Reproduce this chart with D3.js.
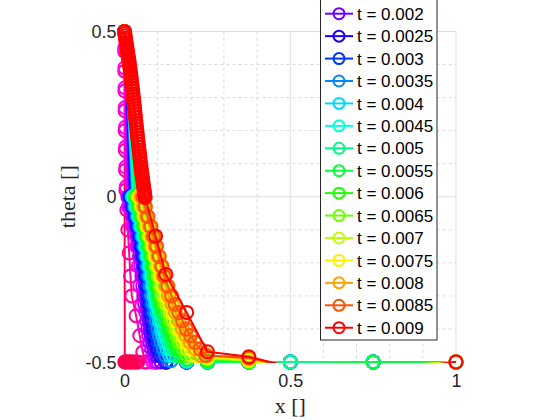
<!DOCTYPE html>
<html>
<head>
<meta charset="utf-8">
<script src="https://cdn.jsdelivr.net/npm/d3@7"></script>
<style>
  html, body { margin: 0; padding: 0; background: #fff; }
  svg { display: block; }
</style>
</head>
<body>
<svg id="chart" width="560" height="420"></svg>
<script>
// ---------------- data ----------------
const times = [0, 0.0005, 0.001, 0.0015, 0.002, 0.0025, 0.003, 0.0035, 0.004, 0.0045,
               0.005, 0.0055, 0.006, 0.0065, 0.007, 0.0075, 0.008, 0.0085, 0.009];
const xTicks = [0, 0.5, 1];
const yTicks = [-0.5, 0, 0.5];
const xTickLabels = ["0", "0.5", "1"];
const yTickLabels = ["-0.5", "0", "0.5"];
const xMinor = [0.1, 0.2, 0.3, 0.4, 0.6, 0.7, 0.8, 0.9];
const yMinor = [-0.4, -0.3, -0.2, -0.1, 0.1, 0.2, 0.3, 0.4];

// theta levels shared by the middle series (front region)
const frontLevels = [0.5, 0, -0.03, -0.06, -0.09, -0.12, -0.15, -0.18, -0.21, -0.24, -0.27, -0.3,
                     -0.325, -0.35, -0.375, -0.4, -0.42, -0.44, -0.46, -0.48];

const xSeries = [
  [0, 0.0008, 0.004, 0.008, 0.012, 0.016, 0.02, 0.025, 0.03, 0.035, 0.04, 0.0625, 0.09375, 0.125, 0.1875, 0.25, 0.375, 0.5, 0.75, 1],
  [0, 0.0004, 0.0008, 0.0012, 0.0016, 0.002, 0.0025, 0.003, 0.004, 0.007, 0.01, 0.014, 0.018, 0.022, 0.035, 0.046, 0.055, 0.065, 0.09375, 0.125, 0.1875, 0.25, 0.375, 0.5, 0.75, 1],
  [0, 0.0005, 0.001, 0.0015, 0.002, 0.0025, 0.003, 0.004, 0.005, 0.012, 0.024, 0.036, 0.042, 0.046, 0.052, 0.06, 0.07, 0.085, 0.09375, 0.125, 0.1875, 0.25, 0.375, 0.5, 0.75, 1],
  [0, 0.01, 0.017, 0.024, 0.03, 0.036, 0.041, 0.045, 0.049, 0.052, 0.055, 0.058, 0.061, 0.064, 0.067, 0.07, 0.073, 0.077, 0.082, 0.088, 0.1, 0.125, 0.1875, 0.25, 0.375, 0.5, 0.75, 1],
  [0, 0.015, 0.022, 0.029, 0.036, 0.042, 0.047, 0.052, 0.056, 0.06, 0.063, 0.066, 0.069, 0.072, 0.075, 0.078, 0.081, 0.085, 0.09, 0.097, 0.11, 0.125, 0.1875, 0.25, 0.375, 0.5, 0.75, 1],
  [0, 0.018, 0.026, 0.033, 0.04, 0.046, 0.051, 0.056, 0.06, 0.064, 0.068, 0.071, 0.075, 0.078, 0.082, 0.086, 0.089, 0.093, 0.099, 0.106, 0.125, 0.1875, 0.25, 0.375, 0.5, 0.75, 1],
  [0, 0.021, 0.029, 0.036, 0.043, 0.05, 0.056, 0.061, 0.065, 0.069, 0.073, 0.076, 0.08, 0.084, 0.088, 0.093, 0.097, 0.101, 0.108, 0.115, 0.125, 0.1875, 0.25, 0.375, 0.5, 0.75, 1],
  [0, 0.023, 0.031, 0.039, 0.046, 0.053, 0.059, 0.065, 0.07, 0.074, 0.078, 0.082, 0.086, 0.091, 0.096, 0.101, 0.105, 0.11, 0.117, 0.124, 0.14, 0.1875, 0.25, 0.375, 0.5, 0.75, 1],
  [0, 0.025, 0.034, 0.042, 0.049, 0.056, 0.062, 0.068, 0.074, 0.079, 0.084, 0.088, 0.093, 0.098, 0.104, 0.11, 0.115, 0.121, 0.128, 0.136, 0.1875, 0.25, 0.375, 0.5, 0.75, 1],
  [0, 0.028, 0.037, 0.045, 0.053, 0.06, 0.066, 0.072, 0.078, 0.083, 0.088, 0.093, 0.099, 0.105, 0.111, 0.118, 0.124, 0.13, 0.138, 0.146, 0.1875, 0.25, 0.375, 0.5, 0.75, 1],
  [0, 0.031, 0.04, 0.048, 0.056, 0.063, 0.07, 0.076, 0.082, 0.087, 0.092, 0.097, 0.104, 0.111, 0.118, 0.126, 0.133, 0.139, 0.147, 0.156, 0.1875, 0.25, 0.375, 0.5, 0.75, 1],
  [0, 0.034, 0.043, 0.051, 0.059, 0.066, 0.073, 0.08, 0.086, 0.091, 0.096, 0.101, 0.109, 0.117, 0.125, 0.134, 0.141, 0.148, 0.157, 0.167, 0.1875, 0.25, 0.375, 0.5, 0.75, 1],
  [0, 0.037, 0.046, 0.054, 0.062, 0.07, 0.077, 0.084, 0.09, 0.096, 0.101, 0.107, 0.115, 0.124, 0.133, 0.142, 0.149, 0.157, 0.167, 0.178, 0.25, 0.375, 0.5, 0.75, 1],
  [0, 0.04, 0.049, 0.057, 0.065, 0.073, 0.081, 0.088, 0.095, 0.101, 0.107, 0.113, 0.122, 0.131, 0.14, 0.15, 0.158, 0.166, 0.178, 0.19, 0.25, 0.375, 0.5, 0.75, 1],
  [0, 0.043, 0.052, 0.06, 0.068, 0.076, 0.084, 0.092, 0.099, 0.106, 0.112, 0.119, 0.128, 0.138, 0.148, 0.158, 0.167, 0.176, 0.189, 0.202, 0.25, 0.375, 0.5, 0.75, 1],
  [0, 0.046, 0.055, 0.063, 0.071, 0.079, 0.088, 0.096, 0.104, 0.111, 0.118, 0.126, 0.136, 0.146, 0.156, 0.166, 0.176, 0.187, 0.201, 0.215, 0.25, 0.375, 0.5, 0.75, 1],
  [0, 0.05, 0.058, 0.066, 0.075, 0.083, 0.092, 0.1, 0.109, 0.117, 0.125, 0.133, 0.144, 0.154, 0.165, 0.175, 0.186, 0.198, 0.214, 0.23, 0.25, 0.375, 0.5, 0.75, 1],
  [0, 0.056, 0.063, 0.071, 0.08, 0.088, 0.097, 0.105, 0.113, 0.12, 0.131, 0.142, 0.153, 0.164, 0.175, 0.186, 0.199, 0.212, 0.228, 0.245, 0.375, 0.5, 0.75, 1],
  [0, 0.00098, 0.00195, 0.00293, 0.0039, 0.00488, 0.00586, 0.00684, 0.0078, 0.00879, 0.00977, 0.01074, 0.0117,
   0.0127, 0.0137, 0.0146, 0.0156, 0.0166, 0.0176, 0.0186, 0.0195, 0.0205, 0.0215, 0.0225, 0.0234, 0.0244,
   0.0254, 0.0264, 0.0273, 0.0283, 0.0293, 0.0303, 0.03125, 0.0322, 0.0332, 0.0342, 0.0352, 0.0361, 0.0371,
   0.0381, 0.039, 0.04, 0.041, 0.042, 0.043, 0.0439, 0.0449, 0.0459, 0.0469, 0.0479, 0.0488, 0.0498, 0.0508,
   0.0518, 0.0527, 0.0537, 0.0547, 0.0557, 0.0566, 0.0576, 0.0586, 0.0596, 0.0605, 0.0615, 0.0625,
   0.09375, 0.125, 0.1875, 0.25, 0.375, 0.5, 0.75, 1]
];

const ySeries = [
  [0.5, -0.5, -0.5, -0.5, -0.5, -0.5, -0.5, -0.5, -0.5, -0.5, -0.5, -0.5, -0.5, -0.5, -0.5, -0.5, -0.5, -0.5, -0.5, -0.5],
  [0.5, 0.44, 0.38, 0.32, 0.26, 0.2, 0.14, 0.08, 0.02, -0.04, -0.1, -0.17, -0.24, -0.3, -0.36, -0.42, -0.47, -0.5, -0.5, -0.5, -0.5, -0.5, -0.5, -0.5, -0.5, -0.5],
  [0.5, 0.45, 0.39, 0.33, 0.27, 0.21, 0.15, 0.09, 0.03, -0.03, -0.09, -0.15, -0.21, -0.27, -0.33, -0.39, -0.45, -0.5, -0.5, -0.5, -0.5, -0.5, -0.5, -0.5, -0.5, -0.5],
  [...frontLevels, -0.5, -0.5, -0.5, -0.5, -0.5, -0.5, -0.5, -0.5],
  [...frontLevels, -0.5, -0.5, -0.5, -0.5, -0.5, -0.5, -0.5, -0.5],
  [...frontLevels, -0.5, -0.5, -0.5, -0.5, -0.5, -0.5, -0.5],
  [...frontLevels, -0.497, -0.5, -0.5, -0.5, -0.5, -0.5, -0.5],
  [...frontLevels, -0.496, -0.5, -0.5, -0.5, -0.5, -0.5, -0.5],
  [...frontLevels, -0.498, -0.5, -0.5, -0.5, -0.5, -0.5],
  [...frontLevels, -0.496, -0.5, -0.5, -0.5, -0.5, -0.5],
  [...frontLevels, -0.494, -0.499, -0.5, -0.5, -0.5, -0.5],
  [...frontLevels, -0.491, -0.497, -0.5, -0.508, -0.5, -0.5],
  [...frontLevels, -0.493, -0.499, -0.51, -0.515, -0.5],
  [...frontLevels, -0.49, -0.497, -0.511, -0.515, -0.5],
  [...frontLevels, -0.487, -0.495, -0.512, -0.515, -0.5],
  [...frontLevels, -0.484, -0.493, -0.513, -0.53, -0.5],
  [...frontLevels, -0.48, -0.49, -0.514, -0.53, -0.5],
  [...frontLevels, -0.487, -0.515, -0.53, -0.5],
  [0.5, 0.494, 0.487, 0.48, 0.474, 0.467, 0.461, 0.454, 0.448, 0.441, 0.435, 0.428, 0.422,
   0.415, 0.409, 0.402, 0.395, 0.388, 0.38, 0.372, 0.364, 0.356, 0.347, 0.339, 0.33, 0.321,
   0.312, 0.303, 0.294, 0.285, 0.276, 0.267, 0.258, 0.249, 0.24, 0.231, 0.222, 0.213, 0.204,
   0.195, 0.186, 0.177, 0.168, 0.159, 0.15, 0.141, 0.133, 0.124, 0.116, 0.107, 0.099, 0.091, 0.083,
   0.075, 0.067, 0.06, 0.052, 0.045, 0.038, 0.031, 0.024, 0.017, 0.011, 0.004, -0.002,
   -0.119, -0.235, -0.35, -0.469, -0.484, -0.515, -0.53, -0.5]
];

// ---------------- layout ----------------
const svg = d3.select("#chart");
const W = 560, H = 420;
const plot = { left: 124.5, right: 456, top: 31.5, bottom: 362 };

const x = d3.scaleLinear().domain([0, 1]).range([plot.left, plot.right]);
const y = d3.scaleLinear().domain([-0.5, 0.5]).range([plot.bottom, plot.top]);

const nSer = times.length;
const color = i => d3.hsl((nSer - 1 - i) * 360 / nSer, 1, 0.5).formatHex();

svg.append("rect").attr("width", W).attr("height", H).attr("fill", "#fff");

// clip for lines
svg.append("defs").append("clipPath").attr("id", "plotclip")
  .append("rect")
  .attr("x", plot.left - 3).attr("y", plot.top - 3)
  .attr("width", plot.right - plot.left + 6)
  .attr("height", plot.bottom - plot.top + 4);

// grid
const grid = svg.append("g");
grid.selectAll("line.xminor").data(xMinor).join("line")
  .attr("x1", d => x(d)).attr("x2", d => x(d))
  .attr("y1", plot.top).attr("y2", plot.bottom)
  .attr("stroke", "#cfcfcf").attr("stroke-width", 0.8).attr("stroke-dasharray", "3,3");
grid.selectAll("line.yminor").data(yMinor).join("line")
  .attr("y1", d => y(d)).attr("y2", d => y(d))
  .attr("x1", plot.left).attr("x2", plot.right)
  .attr("stroke", "#cfcfcf").attr("stroke-width", 0.8).attr("stroke-dasharray", "3,3");
grid.selectAll("line.xmajor").data(xTicks).join("line")
  .attr("x1", d => x(d)).attr("x2", d => x(d))
  .attr("y1", plot.top).attr("y2", plot.bottom)
  .attr("stroke", "#dcdcdc").attr("stroke-width", 1);
grid.selectAll("line.ymajor").data(yTicks).join("line")
  .attr("y1", d => y(d)).attr("y2", d => y(d))
  .attr("x1", plot.left).attr("x2", plot.right)
  .attr("stroke", "#dcdcdc").attr("stroke-width", 1);

// axes tick labels via d3 axes (domain/ticks hidden)
const xAxis = d3.axisBottom(x).tickValues(xTicks).tickFormat((d, i) => xTickLabels[i]).tickSize(0).tickPadding(0);
const yAxis = d3.axisLeft(y).tickValues(yTicks).tickFormat((d, i) => yTickLabels[i]).tickSize(0).tickPadding(8);

const gx = svg.append("g").attr("transform", `translate(0,${plot.bottom})`).call(xAxis);
gx.select(".domain").remove();
gx.selectAll("text").attr("font-family", "Liberation Sans, Arial, sans-serif")
  .attr("font-size", 18).attr("fill", "#262626").attr("dy", null).attr("y", 25);

const gy = svg.append("g").attr("transform", `translate(${plot.left},0)`).call(yAxis);
gy.select(".domain").remove();
gy.selectAll("text").attr("font-family", "Liberation Sans, Arial, sans-serif")
  .attr("font-size", 18).attr("fill", "#262626").attr("dy", "0.34em");

// axis labels
svg.append("text").attr("x", x(0.5)).attr("y", 413).attr("text-anchor", "middle")
  .attr("font-family", "Liberation Serif, DejaVu Serif, serif").attr("font-size", 22)
  .attr("fill", "#262626").text("x []");
svg.append("text").attr("transform", `translate(75,${y(0)}) rotate(-90)`).attr("text-anchor", "middle")
  .attr("font-family", "Liberation Serif, DejaVu Serif, serif").attr("font-size", 22)
  .attr("fill", "#262626").text("theta []");

// series
const line = d3.line().x(d => x(d[0])).y(d => y(d[1]));
const seriesG = svg.append("g");
for (let i = 0; i < nSer; i++) {
  const pts = xSeries[i].map((xv, k) => [xv, ySeries[i][k]]);
  const g = seriesG.append("g");
  g.append("path").datum(pts).attr("d", line)
    .attr("clip-path", "url(#plotclip)")
    .attr("fill", "none").attr("stroke", color(i)).attr("stroke-width", 2)
    .attr("stroke-linejoin", "round");
  g.selectAll("circle").data(pts.filter(p => p[1] >= -0.5 - 1e-9 && p[1] <= 0.5 + 1e-9)).join("circle")
    .attr("cx", d => x(d[0])).attr("cy", d => y(d[1])).attr("r", 6.5)
    .attr("fill", "none").attr("stroke", color(i)).attr("stroke-width", 2);
}

// legend (the upper rows lie above the window, as in the reference)
const leg = { left: 320.5, right: 437, bottom: 340, firstVisible: 4, rowY: 13.7, step: 22.43 };
const rowY = i => leg.rowY + (i - leg.firstVisible) * leg.step;
const legG = svg.append("g");
legG.append("rect")
  .attr("x", leg.left).attr("y", -6)
  .attr("width", leg.right - leg.left).attr("height", leg.bottom + 6)
  .attr("fill", "#fff").attr("stroke", "#262626").attr("stroke-width", 1);
const legendItems = times.map((t, i) => ({ t, i })).filter(d => d.i >= leg.firstVisible);
const rows = legG.selectAll("g.row").data(legendItems).join("g")
  .attr("transform", d => `translate(0,${rowY(d.i)})`);
rows.append("line").attr("x1", 325).attr("x2", 353).attr("y1", 0).attr("y2", 0)
  .attr("stroke", d => color(d.i)).attr("stroke-width", 2);
rows.append("circle").attr("cx", 339).attr("cy", 0).attr("r", 5.5)
  .attr("fill", "none").attr("stroke", d => color(d.i)).attr("stroke-width", 2);
rows.append("text").attr("x", 357).attr("y", 6.2)
  .attr("font-family", "Liberation Sans, Arial, sans-serif").attr("font-size", 17)
  .attr("fill", "#000").text(d => "t = " + d.t);
</script>
</body>
</html>
